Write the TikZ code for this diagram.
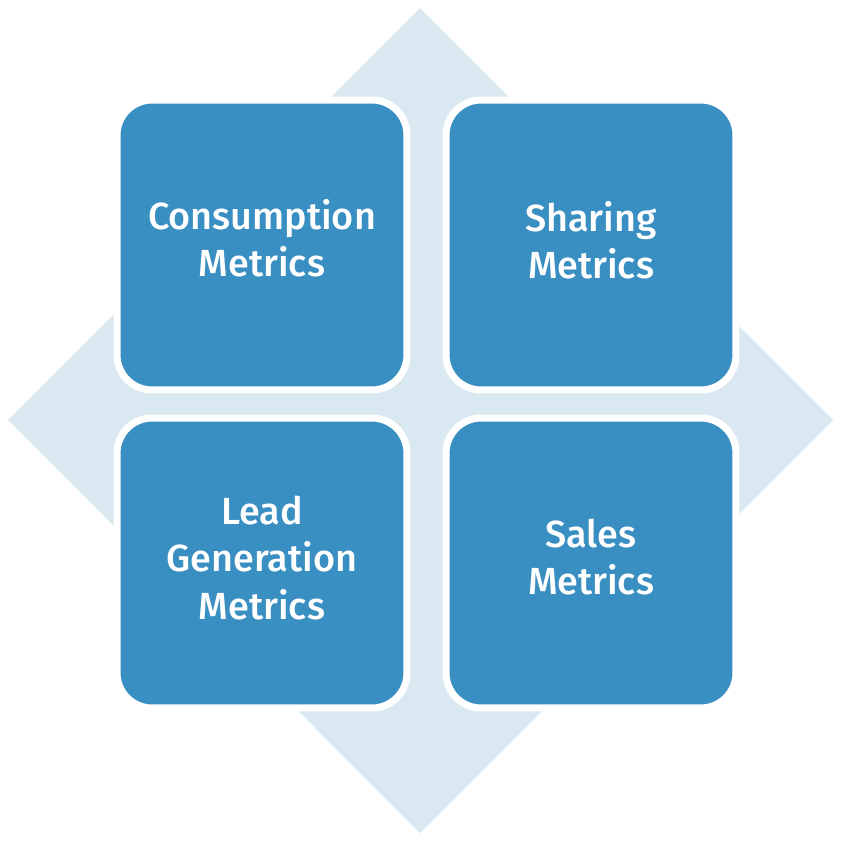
\documentclass[tikz,border=0pt]{standalone}
\usepackage{fontspec}
\setsansfont{Fira Sans}[UprightFont=* Medium]
\usetikzlibrary{positioning}
\definecolor{cblue}{HTML}{3A8FC2}
\definecolor{clight}{HTML}{D9E8F1}
\tikzset{
  every picture/.style={font=\sffamily},
  tile/.style={draw=white, line width=4pt, fill=cblue, rounded corners=0.7cm,
    minimum width=5.8cm, minimum height=5.8cm, inner sep=0pt},
  label/.style={text=white, align=center, font=\sffamily\fontsize{21.5}{27}\selectfont},
}
\begin{document}
\begin{tikzpicture}[x=0.02cm, y=-0.02cm]
  \useasboundingbox (0,0) rectangle (841,841);
  \fill[clight] (420,8) -- (833,420) -- (420,833) -- (8,420) -- cycle;
  \node[tile] (tl) at (262,245) {};
  \node[tile] (tr) at (591,245) {};
  \node[tile] (bl) at (262,563) {};
  \node[tile] (br) at (591,563) {};
  \node[label] (tltext) at (262,238) {Consumption\\Metrics};
  \node[label] (trtext) at (591,240) {Sharing\\Metrics};
  \node[label] (bltext) at (262,558) {Lead\\Generation\\Metrics};
  \node[label] (brtext) at (591,557) {Sales\\Metrics};
\end{tikzpicture}
\end{document}
